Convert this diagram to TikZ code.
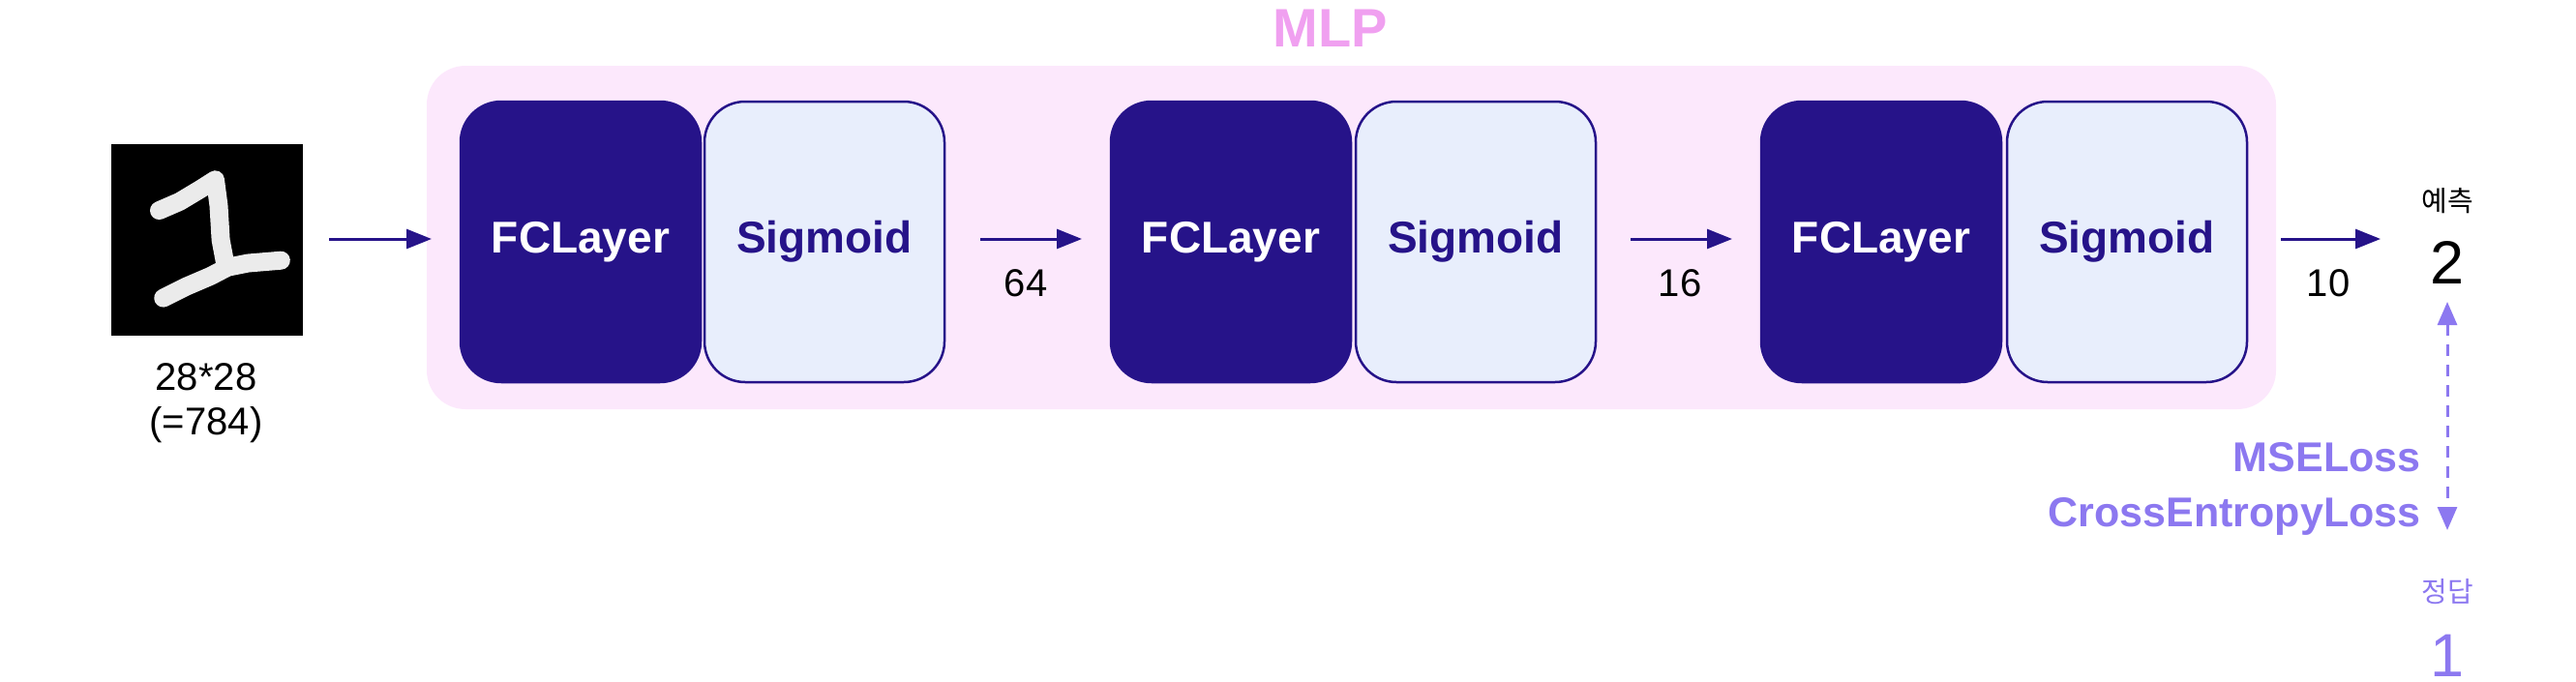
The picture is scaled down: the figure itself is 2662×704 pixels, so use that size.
\documentclass[tikz,border=0pt]{standalone}
\usepackage{fontspec}
\setmainfont{Liberation Sans}
\newfontfamily\kr{Noto Sans CJK KR}
\usetikzlibrary{arrows.meta}
\definecolor{navy}{HTML}{261389}
\definecolor{sigfill}{HTML}{E8EEFC}
\definecolor{mlpbg}{HTML}{FCE8FC}
\definecolor{mlptxt}{HTML}{F0A0F0}
\definecolor{loss}{HTML}{8C78F0}
\begin{document}
\begin{tikzpicture}[x=1pt,y=-1pt,
  fc/.style={draw=navy,fill=navy,line width=2.5pt,rounded corners=42pt,minimum width=248pt,minimum height=290pt,text=white,font=\fontsize{46}{50}\selectfont\bfseries},
  sig/.style={draw=navy,fill=sigfill,line width=2.5pt,rounded corners=42pt,minimum width=248pt,minimum height=290pt,text=navy,font=\fontsize{46}{50}\selectfont\bfseries},
  arr/.style={draw=navy,line width=3pt,-{Triangle[length=26pt,width=20pt]}},
  num/.style={font=\fontsize{40}{44}\selectfont},
  lossarr/.style={draw=loss,line width=3pt,dash pattern=on 12pt off 9pt,{Triangle[length=24pt,width=20pt]}-{Triangle[length=24pt,width=20pt]}},
  losst/.style={text=loss,font=\fontsize{43}{50}\selectfont\bfseries,align=right,anchor=east}]
\useasboundingbox (0,0) rectangle (2662,704);
% MLP background
\fill[mlpbg,rounded corners=40pt] (441,68) rectangle (2352,423);
\node[text=mlptxt,font=\fontsize{56}{60}\selectfont\bfseries] (mlp) at (1375,29) {MLP};
% image
\fill[black] (115,149) rectangle (313,347);
\begin{scope}
\clip (115,149) rectangle (313,347);
\begin{scope}[shift={(115,149)},x=7.07pt,y=-7.07pt]
\draw[white!92!black,line width=19pt,line cap=round,line join=round]
  (7.0,9.7) -- (10,8.4) -- (13,6.6) -- (15.2,5.2) -- (15.7,9) -- (16.0,14) -- (16.6,17.2);
\draw[white!92!black,line width=19pt,line cap=round,line join=round]
  (7.6,22.5) -- (11,20.8) -- (14.5,19.3) -- (17,18) -- (20,17.4) -- (24.8,17.0);
\end{scope}
\end{scope}
\node[num,align=center] (inlbl) at (213,417) {28*28\\[2pt](=784)};
% layers
\node[fc]  (fc1) at (600,250) {FCLayer};
\node[sig] (s1)  at (852,250) {Sigmoid};
\node[fc]  (fc2) at (1272,250) {FCLayer};
\node[sig] (s2)  at (1525,250) {Sigmoid};
\node[fc]  (fc3) at (1944,250) {FCLayer};
\node[sig] (s3)  at (2198,250) {Sigmoid};
% arrows
\coordinate (a0s) at (340,247); \coordinate (a0e) at (446,247);
\draw[arr] (a0s) -- (a0e);
\coordinate (a1s) at (1013,247); \coordinate (a1e) at (1118,247);
\draw[arr] (a1s) -- (a1e);
\coordinate (a2s) at (1685,247); \coordinate (a2e) at (1790,247);
\draw[arr] (a2s) -- (a2e);
\coordinate (a3s) at (2357,247); \coordinate (a3e) at (2460,247);
\draw[arr] (a3s) -- (a3e);
\node[num] (n64) at (1060,293) {64};
\node[num] (n16) at (1736,293) {16};
\node[num] (n10) at (2406,293) {10};
% prediction
\node[font=\kr\fontsize{29}{32}\selectfont] (pl) at (2529,208) {예측};
\node[font=\fontsize{63}{66}\selectfont] (pred) at (2529,272) {2};
\node[text=loss,font=\kr\fontsize{29}{32}\selectfont] (gl) at (2529,612) {정답};
\node[text=loss,font=\fontsize{63}{66}\selectfont] (gt) at (2529,678) {1};
\coordinate (lt) at (2529,312); \coordinate (lb) at (2529,548);
\draw[lossarr] (lt) -- (lb);
\node[losst] (mse) at (2505,473) {MSELoss};
\node[losst] (ce) at (2505,534) {CrossEntropyLoss};
\end{tikzpicture}
\end{document}
